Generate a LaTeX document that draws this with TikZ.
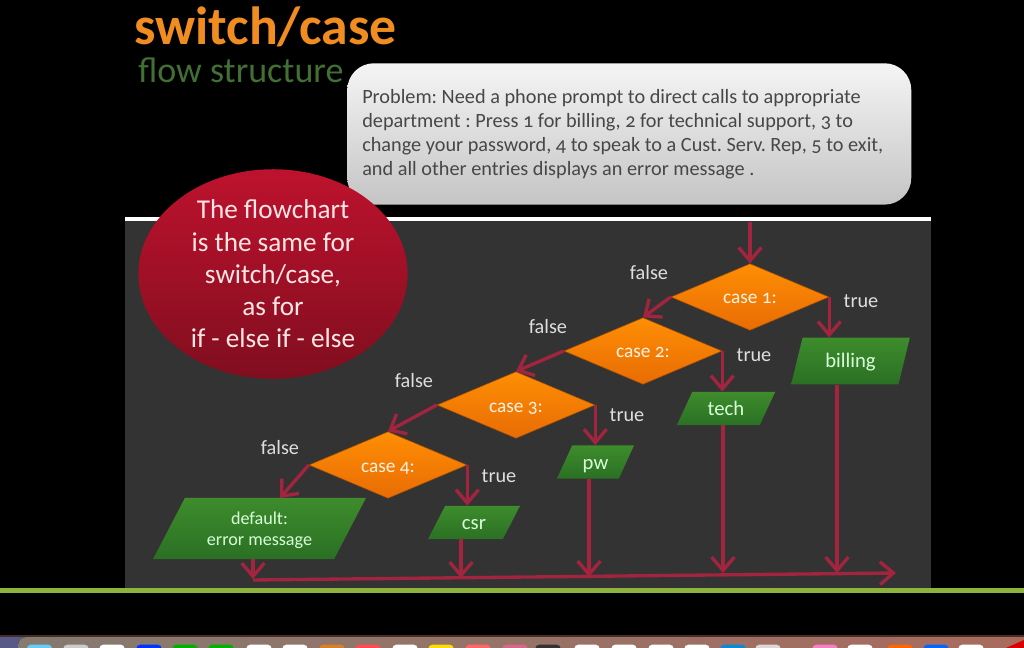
\documentclass[tikz,border=0pt]{standalone}
\usepackage{fontspec}
\setmainfont[Numbers=OldStyle]{Carlito}
\usetikzlibrary{arrows.meta,positioning,shapes.geometric}

\definecolor{panel}{RGB}{51,51,52}
\definecolor{flowred}{RGB}{163,36,62}
\definecolor{orangetop}{RGB}{255,142,4}
\definecolor{orangelow}{RGB}{232,108,4}
\definecolor{greentop}{RGB}{62,140,44}
\definecolor{greenlow}{RGB}{42,112,36}
\definecolor{titleorange}{RGB}{240,140,32}
\definecolor{titlegreen}{RGB}{66,112,52}
\definecolor{rulegreen}{RGB}{142,178,62}
\definecolor{labelgrey}{RGB}{222,222,222}
\definecolor{notetop}{RGB}{190,18,46}
\definecolor{notelow}{RGB}{128,14,30}
\definecolor{traygrey}{RGB}{132,122,112}
\definecolor{traysalmon}{RGB}{170,106,94}
\definecolor{traydark}{RGB}{70,45,38}

\tikzset{
  decision/.style={diamond,shape aspect=2.4,inner sep=0pt,minimum width=118.5pt,minimum height=50pt,
    top color=orangetop,bottom color=orangelow,draw=orangelow!70!black,line width=.4pt,
    text=white!90!orange,font=\fontsize{14.5}{16}\selectfont,text height=10.5pt,text depth=0pt},
  action/.style={trapezium,trapezium stretches=true,inner sep=0pt,
    top color=greentop,bottom color=greenlow,text=white!85!green,
    font=\fontsize{15.5}{17}\selectfont,text height=10.5pt,text depth=0pt},
  branch/.style={text=labelgrey,font=\fontsize{15.2}{17}\selectfont},
  flow/.style={draw=flowred,line width=2.5pt,-{Straight Barb[length=10pt,width=17pt,line width=2.5pt]}},
  dockicon/.style={rounded corners=3pt,minimum width=19pt,minimum height=8pt,inner sep=0pt}
}

\begin{document}
\frenchspacing
\begin{tikzpicture}[x=0.75pt,y=-0.75pt]
   \useasboundingbox (0,0) rectangle (1024,648);
   \fill[black] (0,0) rectangle (1024,648);
   \fill[panel] (125,221) rectangle (931,589);
   \fill[white] (125,217) rectangle (931,221);
   \fill[rulegreen] (0,588) rectangle (1024,593);

   % dock along the bottom edge
   \fill[traydark] (0,635) rectangle (1024,648);
   \fill[black!40!blue!30!gray] (0,637) rectangle (30,648);
   \fill[left color=traygrey,right color=traysalmon,rounded corners=6pt] (18,637) rectangle (1040,660);
   \foreach \px/\col in {39.5/cyan!60!white,76/black!20,112/white,149/blue!80!cyan,185/green!70!black,221/green!70!black,259/white,295/white,332/brown!60!orange,368/red!70,405/white,441/yellow!80!orange,478/red!60,515/purple!60,548/black!80,587/white,624/white,661/white,697/white,733/cyan!70!blue,768/black!15,825/magenta!50,860/white,900/orange!80!red,936/blue!60!cyan,971/white}
     \node[dockicon,fill=\col] at (\px,650) {};
   \fill[red!85!black] (1024,640) -- (1006,648) -- (1024,648) -- cycle;

   % titles
   \node[anchor=base west,inner sep=0pt,text=titleorange,font=\fontsize{40.3}{42}\selectfont\bfseries] (title) at (134,45) {switch/case};
   \node[anchor=base west,inner sep=0pt,text=titlegreen,font=\fontsize{27}{30}\selectfont] (subtitle) at (138,83) {flow structure};

   % problem box and the round note
   \node[anchor=north west,draw=none,rounded corners=20pt,minimum width=423pt,minimum height=106pt,
     top color=white!96!black,bottom color=white!77!black] (problem) at (347,63) {};
   \node[anchor=north west,inner sep=0pt,align=left,text=black!72,font=\fontsize{15.2}{18.1}\selectfont] (problemtext) at (362,89)
     {Problem: Need a phone prompt to direct calls to appropriate\\
      department : Press 1 for billing, 2 for technical support, 3 to\\
      change your password, 4 to speak to a Cust. Serv. Rep, 5 to exit,\\
      and all other entries displays an error message .};
   \node[ellipse,inner sep=0pt,minimum width=202pt,minimum height=156pt,
     top color=notetop,bottom color=notelow,align=center,text=white!90!red,
     font=\fontsize{20.4}{24.2}\selectfont] (note) at (273,274)
     {The flowchart\\is the same for\\switch/case,\\as for\\if - else if - else};

   % decisions
   \node[decision] (case1) at (750,297) {case 1:};
   \node[decision] (case2) at (643,351) {case 2:};
   \node[decision] (case3) at (516,405) {case 3:};
   \node[decision] (case4) at (388,465) {case 4:};

   % actions
   \node[action,trapezium left angle=67,trapezium right angle=113,minimum width=89pt,minimum height=35pt] (billing) at (850.5,361) {billing};
   \node[action,trapezium left angle=59,trapezium right angle=121,minimum width=74pt,minimum height=25pt] (tech) at (726,408.5) {tech};
   \node[action,trapezium left angle=59,trapezium right angle=121,minimum width=58pt,minimum height=25pt] (pw) at (595.5,462) {pw};
   \node[action,trapezium left angle=63,trapezium right angle=117,minimum width=69pt,minimum height=25pt] (csr) at (474,522.5) {csr};
   \node[action,trapezium left angle=57,trapezium right angle=123,minimum width=160pt,minimum height=46pt,align=center,
     font=\fontsize{13.6}{15.8}\selectfont,text height=26pt] (default) at (259.5,528.5) {default:\\error message};

   % branch labels
   \node[branch] (false1) at (649,273) {false};
   \node[branch] (true1)  at (861,301) {true};
   \node[branch] (false2) at (548,327) {false};
   \node[branch] (true2)  at (754,355) {true};
   \node[branch] (false3) at (414,381) {false};
   \node[branch] (true3)  at (627,415) {true};
   \node[branch] (false4) at (280,448) {false};
   \node[branch] (true4)  at (499,476) {true};

   % free ends
   \coordinate (entry) at (750,222);
   \coordinate (defaultin) at (280,498);
   \coordinate (defaultout) at (253,559);
   \coordinate (busstart) at (253,580);
   \coordinate (busend) at (896,573);
   \coordinate (buscsr) at (461,578);
   \coordinate (buspw) at (589,577);
   \coordinate (bustech) at (723,573);
   \coordinate (busbilling) at (837,573);
   \coordinate (busdefault) at (253,579);

   \draw[flow] (entry) -- (case1.north);
   \draw[flow] (case1.west) -- (case2.north);
   \draw[flow] (case2.west) -- (case3.north);
   \draw[flow] (case3.west) -- (case4.north);
   \draw[flow] (case4.west) -- (defaultin);
   \draw[flow] (case1.east) -- (case1.east |- billing.north);
   \draw[flow] (case2.east) -- (case2.east |- tech.north);
   \draw[flow] (case3.east) -- (case3.east |- pw.north);
   \draw[flow] (case4.east) -- (case4.east |- csr.north);
   \draw[flow] (busbilling |- billing.south) -- (busbilling);
   \draw[flow] (bustech |- tech.south) -- (bustech);
   \draw[flow] (buspw |- pw.south) -- (buspw);
   \draw[flow] (buscsr |- csr.south) -- (buscsr);
   \draw[flow] (defaultout) -- (busdefault);
   \draw[flow] (busstart) -- (busend);
\end{tikzpicture}
\end{document}
